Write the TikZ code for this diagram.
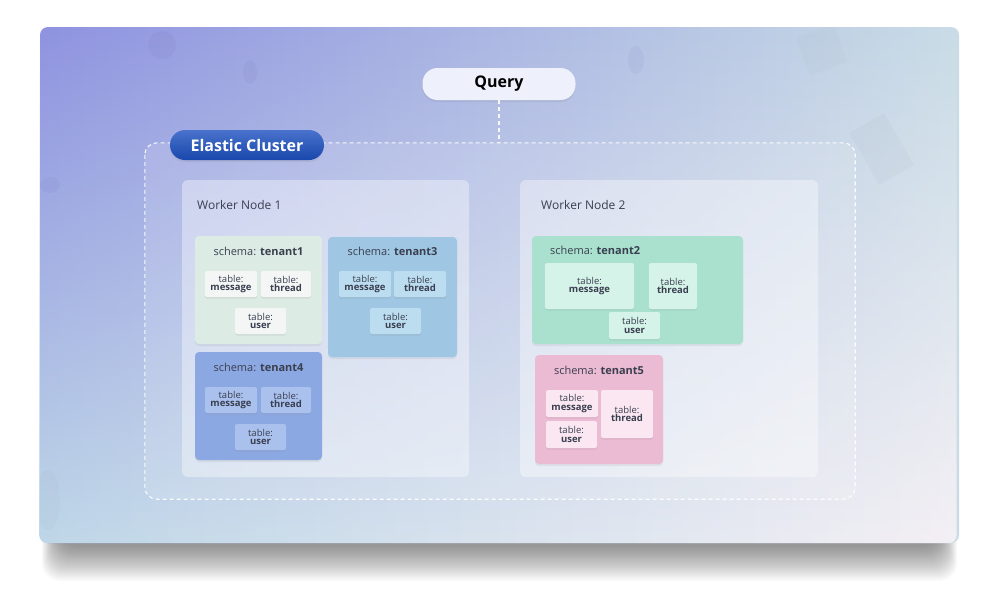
\documentclass[tikz,border=0pt]{standalone}
\usepackage{fontspec}
\setmainfont{Open Sans}
\usetikzlibrary{shadows,fadings}
\definecolor{winTL}{HTML}{8F93E0}
\definecolor{winTR}{HTML}{C9DCE6}
\definecolor{winBL}{HTML}{BFD7E8}
\definecolor{winBR}{HTML}{F4F0F5}
\definecolor{txt}{HTML}{3A3F50}
\definecolor{ecblue}{HTML}{1B4FBF}
\definecolor{qfill}{HTML}{EEF1FB}
\definecolor{tOne}{HTML}{DCEBE4}
\definecolor{tOneT}{HTML}{F3F6F5}
\definecolor{tThree}{HTML}{9FC6E2}
\definecolor{tThreeT}{HTML}{BCDDF0}
\definecolor{tFour}{HTML}{8CA8E2}
\definecolor{tFourT}{HTML}{AAC1EE}
\definecolor{tTwo}{HTML}{A9E1CE}
\definecolor{tTwoT}{HTML}{D5F3E8}
\definecolor{tFive}{HTML}{EBBAD3}
\definecolor{tFiveT}{HTML}{FBE7F2}
\tikzset{
  pill/.style={rounded corners=15pt, inner sep=0pt, drop shadow={opacity=0.15, shadow xshift=0pt, shadow yshift=-2pt}},
  worker/.style={fill=white, fill opacity=0.38, rounded corners=6pt, inner sep=0pt},
  schemabox/.style={rounded corners=4pt, inner sep=0pt, drop shadow={opacity=0.12, shadow xshift=0pt, shadow yshift=-2pt}},
  tbl/.style={rounded corners=2pt, inner sep=0pt, align=center, text=txt,
     font=\fontsize{9.5}{9.5}\selectfont, drop shadow={opacity=0.14, shadow xshift=0pt, shadow yshift=-1.5pt}},
  ttl/.style={text=txt, font=\fontsize{11}{13}\selectfont, inner sep=0pt},
  wlabel/.style={text=txt, font=\fontsize{12}{13}\selectfont, inner sep=0pt, anchor=west},
  dashline/.style={white, line width=1.1pt, dash pattern=on 4pt off 3pt, opacity=0.9}
}
\newcommand{\tabl}[1]{table:\\[-1pt]\textbf{#1}}
\begin{document}
\begin{tikzpicture}[x=1pt,y=-1pt]
\useasboundingbox (0,0) rectangle (999,597);
\fill[white] (0,0) rectangle (999,597);
% window shadow
\foreach \i in {1,...,20} {
  \fill[black, opacity=0.022, rounded corners=18pt] (60-\i*0.9,70+\i) rectangle (939+\i*0.9,545+1.8*\i);
}
% window background
\shade[rounded corners=8pt, left color=winTL, right color=winTR] (40,27) rectangle (959,543);
\shade[rounded corners=8pt, left color=winBL, right color=winBR, path fading=north] (40,27) rectangle (959,543);
% faint decoration blobs
\begin{scope}
\clip[rounded corners=8pt] (40,27) rectangle (959,543);
\fill[winTL!80!black, opacity=0.12] (162,45) ellipse (14 and 14);
\fill[winTL!80!black, opacity=0.10] (250,72) ellipse (7 and 12);
\fill[winTL!80!black, opacity=0.08] (636,60) ellipse (8 and 14);
\fill[winTR!80!black, opacity=0.10, rotate around={30:(880,150)}] (862,120) rectangle (902,180);
\fill[winTR!80!black, opacity=0.08, rotate around={20:(820,45)}] (800,30) rectangle (840,70);
\fill[winTL!80!black, opacity=0.10] (50,185) ellipse (10 and 8);
\fill[winBL!80!black, opacity=0.08] (48,500) ellipse (12 and 30);
\end{scope}
% cluster
\node[rounded corners=12pt, fill=white, fill opacity=0.12, minimum width=710, minimum height=356, inner sep=0pt] (cluster) at (500,321) {};
\draw[dashline, rounded corners=12pt] (cluster.north west) rectangle (cluster.south east);
% query
\node[pill, fill=qfill, minimum width=153, minimum height=32, font=\bfseries\fontsize{16}{17}\selectfont, text=black] (query) at (499,84) {Query};
\draw[dashline] (query.south) -- (query.south |- cluster.north);
% elastic cluster pill
\node[pill, top color=ecblue!80!white, bottom color=ecblue!90!black, minimum width=154, minimum height=30, font=\bfseries\fontsize{16}{17}\selectfont, text=white] (ec) at (247,145) {Elastic Cluster};
% worker nodes
\node[worker, minimum width=287, minimum height=297] (w1) at (325.5,328.5) {};
\node[wlabel] (w1l) at (197,205) {Worker Node 1};
\node[worker, minimum width=298, minimum height=297] (w2) at (669,328.5) {};
\node[wlabel] (w2l) at (541,205) {Worker Node 2};
% tenant1
\node[schemabox, fill=tOne, minimum width=127, minimum height=108] (s1) at (258.5,290) {};
\node[ttl] (s1t) at (258.5,251) {schema: \textbf{tenant1}};
\node[tbl, fill=tOneT, minimum width=52, minimum height=26] (s1m) at (231,284) {\tabl{message}};
\node[tbl, fill=tOneT, minimum width=50, minimum height=26] (s1th) at (286,284) {\tabl{thread}};
\node[tbl, fill=tOneT, minimum width=51, minimum height=26] (s1u) at (260.5,321) {\tabl{user}};
% tenant3
\node[schemabox, fill=tThree, minimum width=129, minimum height=120] (s3) at (392.5,297) {};
\node[ttl] (s3t) at (392.5,251) {schema: \textbf{tenant3}};
\node[tbl, fill=tThreeT, minimum width=52, minimum height=26] (s3m) at (365,284) {\tabl{message}};
\node[tbl, fill=tThreeT, minimum width=52, minimum height=26] (s3th) at (420,284) {\tabl{thread}};
\node[tbl, fill=tThreeT, minimum width=51, minimum height=26] (s3u) at (395.5,321) {\tabl{user}};
% tenant4
\node[schemabox, fill=tFour, minimum width=127, minimum height=108] (s4) at (258.5,406) {};
\node[ttl] (s4t) at (258.5,367) {schema: \textbf{tenant4}};
\node[tbl, fill=tFourT, minimum width=52, minimum height=26] (s4m) at (231,400) {\tabl{message}};
\node[tbl, fill=tFourT, minimum width=50, minimum height=26] (s4th) at (286,400) {\tabl{thread}};
\node[tbl, fill=tFourT, minimum width=51, minimum height=26] (s4u) at (260.5,437) {\tabl{user}};
% tenant2
\node[schemabox, fill=tTwo, minimum width=211, minimum height=108] (s2) at (637.5,290) {};
\node[ttl, anchor=west] (s2t) at (550,250) {schema: \textbf{tenant2}};
\node[tbl, fill=tTwoT, minimum width=89, minimum height=46] (s2m) at (589.5,286) {\tabl{message}};
\node[tbl, fill=tTwoT, minimum width=48, minimum height=46] (s2th) at (673,286) {\tabl{thread}};
\node[tbl, fill=tTwoT, minimum width=51, minimum height=27] (s2u) at (634.5,325.5) {\tabl{user}};
% tenant5
\node[schemabox, fill=tFive, minimum width=128, minimum height=109] (s5) at (599,409.5) {};
\node[ttl] (s5t) at (599,370) {schema: \textbf{tenant5}};
\node[tbl, fill=tFiveT, minimum width=52, minimum height=27] (s5m) at (572,403.5) {\tabl{message}};
\node[tbl, fill=tFiveT, minimum width=51, minimum height=27] (s5u) at (571.5,434.5) {\tabl{user}};
\node[tbl, fill=tFiveT, minimum width=52, minimum height=48] (s5th) at (627,414) {\tabl{thread}};
\end{tikzpicture}
\end{document}
